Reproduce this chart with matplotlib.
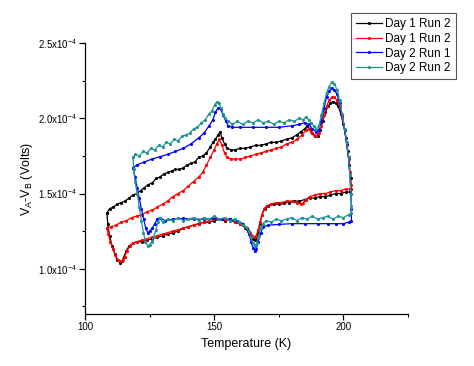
import numpy as np
import matplotlib
matplotlib.use("Agg")
import matplotlib.pyplot as plt
from matplotlib.ticker import FuncFormatter, MultipleLocator

plt.rcParams['font.family'] = ['Liberation Sans', 'DejaVu Sans']
plt.rcParams['mathtext.fontset'] = 'custom'
plt.rcParams['mathtext.rm'] = 'Liberation Sans'
plt.rcParams['mathtext.it'] = 'Liberation Sans:italic'
plt.rcParams['mathtext.default'] = 'regular'

# ---- data (voltages in units of 1e-4 V) ----
d1a_T_up = [108.5, 109.5, 111, 112.5, 114, 115.5, 117, 118.5, 120, 121.5,
            123, 124.5, 126, 127.5, 129, 130.5, 132, 133.5, 135, 136.5,
            138, 139.5, 141, 142.5, 144, 145.5, 147, 148.5, 149.5, 150.5,
            151.5, 152.2, 153, 154, 155, 156.5, 158, 160, 162, 164,
            166, 168, 170, 172, 174, 176, 178, 180, 182, 183.5,
            185, 186, 187, 188, 189, 190, 191, 192, 193, 194,
            195, 196, 197, 198, 199, 200, 201, 201.7, 202.3, 202.8]
d1a_V_up = [1.37, 1.40, 1.41, 1.43, 1.44, 1.45, 1.47, 1.49, 1.50, 1.52,
            1.54, 1.56, 1.57, 1.60, 1.61, 1.63, 1.64, 1.65, 1.66, 1.66,
            1.67, 1.69, 1.70, 1.71, 1.74, 1.75, 1.77, 1.81, 1.84, 1.86,
            1.89, 1.91, 1.87, 1.83, 1.80, 1.79, 1.79, 1.80, 1.80, 1.81,
            1.82, 1.82, 1.83, 1.84, 1.84, 1.85, 1.86, 1.87, 1.89, 1.91,
            1.93, 1.95, 1.93, 1.90, 1.88, 1.88, 1.92, 1.98, 2.04, 2.08,
            2.10, 2.11, 2.10, 2.08, 2.03, 1.96, 1.87, 1.78, 1.69, 1.60]
d1a_T_dn = [203, 202.5, 201, 199, 197, 195, 193, 191, 189, 187,
            185, 183, 181, 179, 177, 175, 173, 171, 169.5, 168.5,
            167.7, 167, 166.3, 165.6, 165, 164, 163, 162, 161, 160,
            158, 156, 154, 152, 150, 148, 146, 144, 142, 140,
            138, 136, 134, 132, 130, 128, 126, 124, 122, 120,
            118.5, 117, 116, 115, 114.3, 113.5, 112.5, 111.5, 110.5, 109.5,
            108.8, 108.5]
d1a_V_dn = [1.53, 1.51, 1.51, 1.50, 1.50, 1.49, 1.48, 1.48, 1.47, 1.47,
            1.46, 1.45, 1.45, 1.44, 1.44, 1.43, 1.43, 1.42, 1.40, 1.36,
            1.30, 1.24, 1.20, 1.19, 1.20, 1.23, 1.25, 1.27, 1.29, 1.30,
            1.31, 1.33, 1.32, 1.33, 1.32, 1.31, 1.31, 1.30, 1.29, 1.28,
            1.27, 1.25, 1.24, 1.23, 1.22, 1.21, 1.20, 1.19, 1.18, 1.18,
            1.17, 1.15, 1.12, 1.08, 1.05, 1.04, 1.06, 1.10, 1.15, 1.22,
            1.30, 1.37]

d1b_T_up = [108.5, 110, 112, 114, 116, 118, 120, 122, 124, 126,
            128, 130, 132, 134, 136, 138, 140, 142, 144, 145.5,
            147, 148.5, 150, 151, 152, 153, 154, 155, 156.5, 158,
            160, 162, 164, 166, 168, 170, 172, 174, 176, 178,
            180, 182, 184, 185.5, 186.5, 187.5, 188.5, 189.5, 190.5, 191.5,
            192.5, 193.5, 194.5, 195.5, 196.5, 197.5, 198.5, 199.5, 200.5, 201.3,
            202, 202.5, 203]
d1b_V_up = [1.27, 1.28, 1.29, 1.31, 1.32, 1.34, 1.35, 1.36, 1.38, 1.39,
            1.41, 1.43, 1.45, 1.48, 1.50, 1.52, 1.55, 1.58, 1.61, 1.64,
            1.69, 1.74, 1.79, 1.83, 1.86, 1.82, 1.77, 1.74, 1.73, 1.73,
            1.73, 1.74, 1.75, 1.76, 1.77, 1.78, 1.79, 1.80, 1.81, 1.83,
            1.84, 1.86, 1.89, 1.92, 1.93, 1.91, 1.89, 1.88, 1.90, 1.95,
            2.02, 2.08, 2.12, 2.14, 2.14, 2.12, 2.08, 2.01, 1.92, 1.82,
            1.73, 1.64, 1.56]
d1b_T_dn = [203, 202.5, 201, 199, 197, 195, 193, 191, 189, 187,
            185.5, 184.5, 183.5, 182, 180, 178, 176, 174, 172, 170.5,
            169.3, 168.5, 167.7, 167, 166.3, 165.6, 164.8, 164, 163, 162,
            161, 160, 158, 156, 154, 152, 150, 148, 146, 144,
            142, 140, 138, 136, 134, 132, 130, 128, 126, 124,
            122, 120, 118.5, 117.3, 116.3, 115.3, 114.6, 113.8, 112.8, 111.8,
            110.8, 109.8, 109, 108.5]
d1b_V_dn = [1.53, 1.53, 1.53, 1.52, 1.52, 1.51, 1.50, 1.50, 1.49, 1.48,
            1.46, 1.44, 1.43, 1.44, 1.45, 1.45, 1.44, 1.44, 1.43, 1.42,
            1.40, 1.36, 1.31, 1.26, 1.22, 1.21, 1.22, 1.24, 1.26, 1.28,
            1.29, 1.30, 1.31, 1.32, 1.33, 1.33, 1.33, 1.32, 1.31, 1.30,
            1.29, 1.28, 1.27, 1.26, 1.25, 1.24, 1.23, 1.22, 1.21, 1.20,
            1.19, 1.18, 1.17, 1.15, 1.12, 1.08, 1.06, 1.05, 1.06, 1.09,
            1.13, 1.18, 1.23, 1.27]

d2a_T_up = [118.6, 120, 123, 126, 129, 132, 135, 138, 141, 144,
            146, 148, 149.5, 150.5, 151.5, 152.5, 153.5, 154.5, 155.5, 157,
            160, 165, 170, 175, 180, 183, 185, 186.5, 188, 189.5,
            190.5, 191.5, 192.5, 193.5, 194.5, 195.5, 196.5, 197.5, 198.5, 199.5,
            200.5, 201.3, 202, 202.5, 202.9, 203.1, 203.1]
d2a_V_up = [1.67, 1.69, 1.71, 1.73, 1.745, 1.76, 1.78, 1.80, 1.83, 1.87,
            1.90, 1.95, 1.99, 2.04, 2.07, 2.06, 2.02, 1.98, 1.95, 1.94,
            1.94, 1.94, 1.94, 1.94, 1.95, 1.96, 1.97, 1.96, 1.93, 1.91,
            1.92, 1.98, 2.07, 2.14, 2.18, 2.20, 2.19, 2.16, 2.10, 2.02,
            1.92, 1.83, 1.74, 1.62, 1.50, 1.40, 1.32]
d2a_T_dn = [202, 200, 197, 194, 190, 185, 180, 175, 171, 169,
            168, 167, 166.3, 165.6, 165, 164.3, 163.5, 162.5, 161, 159,
            156, 153, 150, 146, 142, 138, 134, 131, 129, 128,
            127, 126, 125, 124.3, 123.5, 122.7, 121.8, 121, 120.2, 119.4,
            118.6]
d2a_V_dn = [1.31, 1.30, 1.30, 1.30, 1.30, 1.30, 1.30, 1.295, 1.29, 1.28,
            1.24, 1.18, 1.13, 1.12, 1.14, 1.18, 1.23, 1.27, 1.30, 1.32,
            1.33, 1.33, 1.335, 1.33, 1.33, 1.335, 1.33, 1.32, 1.34, 1.33,
            1.30, 1.27, 1.25, 1.24, 1.27, 1.33, 1.40, 1.47, 1.54, 1.61,
            1.67]

d2b_T_up = [118.6, 119.5, 121, 122.5, 124, 125.5, 127, 128.5, 130, 131.5,
            133, 134.5, 136, 137.5, 139, 140.5, 142, 143.5, 145, 146.5,
            148, 149.2, 150.2, 151, 151.8, 152.6, 153.4, 154.3, 155.5, 157,
            159, 161, 163, 165, 167, 169, 171, 173, 175, 177,
            179, 181, 183, 184.5, 185.5, 186.5, 187.5, 188.5, 189.5, 190.5,
            191.5, 192.5, 193.5, 194.5, 195.5, 196.5, 197.5, 198.5, 199.5, 200.5,
            201.3, 202, 202.5, 202.9, 203.1, 203.1]
d2b_V_up = [1.74, 1.76, 1.75, 1.78, 1.77, 1.80, 1.79, 1.82, 1.81, 1.84,
            1.83, 1.86, 1.85, 1.88, 1.89, 1.90, 1.93, 1.94, 1.97, 1.99,
            2.03, 2.05, 2.09, 2.11, 2.10, 2.07, 2.03, 2.00, 1.98, 1.96,
            1.98, 1.96, 1.98, 1.97, 1.99, 1.97, 1.98, 1.96, 1.98, 1.97,
            1.99, 1.98, 2.00, 1.99, 2.01, 1.99, 1.97, 1.95, 1.93, 1.95,
            2.02, 2.10, 2.17, 2.21, 2.24, 2.23, 2.19, 2.12, 2.03, 1.93,
            1.84, 1.74, 1.62, 1.50, 1.42, 1.37]
d2b_T_dn = [202, 200, 198, 196, 194, 192, 190, 188, 186, 184,
            182, 180, 178, 176, 174, 172, 170, 168.8, 168, 167.2,
            166.4, 165.7, 165, 164.2, 163.3, 162.3, 161, 159.5, 158, 156,
            154, 152, 150, 148, 146, 144, 142, 140, 138, 136,
            134, 132, 130, 129, 128.2, 127.4, 126.6, 125.8, 125, 124.2,
            123.4, 122.6, 121.8, 121, 120.2, 119.4, 118.8, 118.6]
d2b_V_dn = [1.36, 1.34, 1.35, 1.33, 1.35, 1.34, 1.33, 1.35, 1.33, 1.34,
            1.32, 1.34, 1.33, 1.32, 1.33, 1.31, 1.32, 1.30, 1.27, 1.22,
            1.17, 1.15, 1.17, 1.21, 1.25, 1.28, 1.29, 1.31, 1.33, 1.32,
            1.34, 1.33, 1.35, 1.33, 1.34, 1.32, 1.34, 1.33, 1.32, 1.34,
            1.32, 1.33, 1.31, 1.34, 1.31, 1.26, 1.21, 1.18, 1.16, 1.15,
            1.18, 1.24, 1.32, 1.41, 1.50, 1.58, 1.66, 1.74]

labels = ["Day 1 Run 2", "Day 1 Run 2", "Day 2 Run 1", "Day 2 Run 2"]
colors = ["#000000", "#ff0000", "#0000ff", "#1f9490"]
series = [(d1a_T_up + d1a_T_dn, d1a_V_up + d1a_V_dn),
          (d1b_T_up + d1b_T_dn, d1b_V_up + d1b_V_dn),
          (d2a_T_up + d2a_T_dn, d2a_V_up + d2a_V_dn),
          (d2b_T_up + d2b_T_dn, d2b_V_up + d2b_V_dn)]
scale = 1e-4

fig = plt.figure(figsize=(4.74, 3.66), dpi=100)
ax = fig.add_axes([85/474, 1-314/366, 323/474, 271/366])

for (T, V), c, lab in zip(series, colors, labels):
    ax.plot(T, np.array(V) * scale, color=c, lw=0.9, marker='.', ms=2.5,
            label=lab)

ax.set_xlim(100, 225)
ax.set_ylim(0.7e-4, 2.5e-4)
ax.xaxis.set_major_locator(MultipleLocator(50))
ax.xaxis.set_minor_locator(MultipleLocator(25))
ax.yaxis.set_major_locator(MultipleLocator(0.5e-4))
ax.yaxis.set_minor_locator(MultipleLocator(0.25e-4))
ax.yaxis.set_major_formatter(FuncFormatter(
    lambda v, p: r'$%.1f\mathrm{x}10^{-4}$' % (v / scale)))
for s in ['top', 'right']:
    ax.spines[s].set_visible(False)
for s in ['left', 'bottom']:
    ax.spines[s].set_linewidth(0.9)
ax.tick_params(which='major', direction='out', length=4, width=0.9,
               labelsize=7, pad=2)
ax.tick_params(which='minor', direction='out', length=2.5, width=0.8)

ax.set_xlabel('Temperature (K)', fontsize=9, labelpad=4)
ax.set_ylabel(r'V$_A$-V$_B$ (Volts)', fontsize=9, labelpad=2)

leg = ax.legend(loc='upper right', bbox_to_anchor=(456/474, 1-13/366),
                bbox_transform=fig.transFigure, fontsize=8.5, fancybox=False,
                framealpha=1, edgecolor='#555555', handlelength=2.2,
                borderpad=0.45, labelspacing=0.22, handletextpad=0.25,
                borderaxespad=0)
leg.get_frame().set_linewidth(0.8)

fig.savefig('out.png', dpi=100)
